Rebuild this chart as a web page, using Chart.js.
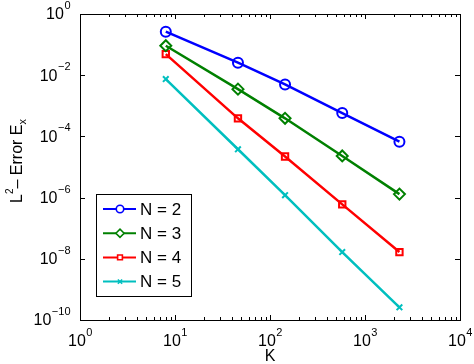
<!DOCTYPE html>
<html>
<head>
<meta charset="utf-8">
<script src="https://cdn.jsdelivr.net/npm/chart.js@4/dist/chart.umd.min.js"></script>
<style>
  html, body { margin: 0; padding: 0; background: #fff; }
  #wrap { width: 474px; height: 364px; }
</style>
</head>
<body>
<div id="wrap"><canvas id="errChart" width="474" height="364"></canvas></div>
<script>
// K values (x axis)
const kValues = [8, 46, 144, 576, 2304];

// L2 error per polynomial order N
const errN2 = [0.264, 0.0256, 0.0050, 5.8e-4, 6.7e-5];
const errN3 = [0.092, 3.5e-3, 3.9e-4, 2.3e-5, 1.3e-6];
const errN4 = [0.049, 3.9e-4, 2.2e-5, 6.0e-7, 1.66e-8];
const errN5 = [7.5e-3, 3.8e-5, 1.2e-6, 1.66e-8, 2.6e-10];

const seriesLabels = ["N = 2", "N = 3", "N = 4", "N = 5"];
const xTickExps = [0, 1, 2, 3, 4];
const yTickExps = [0, -2, -4, -6, -8, -10];

const colors = ["#0000ff", "#008000", "#ff0000", "#00bfbf"];
const markers = ["circle", "rectRot", "rect", "crossRot"];
const markerSizes = [5, 5.5, 4.5, 4];

function toPoints(ys) {
	return kValues.map((k, i) => ({ x: k, y: ys[i] }));
}

const allSeries = [errN2, errN3, errN4, errN5];

const FONT = "Liberation Sans, Arial, sans-serif";

// draw "10" with a superscript exponent
function drawPow(ctx, exp, x, y, align) {
	const base = "10";
	const sup = String(exp).replace("-", "\u2212");
	ctx.font = "16px " + FONT;
	const wb = ctx.measureText(base).width;
	ctx.font = "11px " + FONT;
	const ws = ctx.measureText(sup).width;
	let left = x;
	if (align === "center") left = x - (wb + ws) / 2;
	if (align === "right") left = x - (wb + ws);
	ctx.textAlign = "left";
	ctx.textBaseline = "middle";
	ctx.font = "16px " + FONT;
	ctx.fillText(base, left, y);
	ctx.font = "11px " + FONT;
	ctx.fillText(sup, left + wb + 0.5, y - 9);
}

const framePlugin = {
	id: "frame",
	afterDraw(chart) {
		const ctx = chart.ctx;
		const a = chart.chartArea;
		const xs = chart.scales.x;
		const ys = chart.scales.y;
		ctx.save();
		ctx.strokeStyle = "#000";
		ctx.fillStyle = "#000";
		ctx.lineWidth = 1;

		// box
		ctx.strokeRect(Math.round(a.left) + 0.5, Math.round(a.top) + 0.5, Math.round(a.right - a.left), Math.round(a.bottom - a.top));

		// x ticks (major + minor), inward on top and bottom
		ctx.beginPath();
		for (let e = 0; e <= 4; e++) {
			for (let m = 1; m <= 9; m++) {
				if (e === 4 && m > 1) break;
				const px = Math.round(xs.getPixelForValue(m * Math.pow(10, e))) + 0.5;
				const len = m === 1 ? 5 : 3;
				ctx.moveTo(px, a.bottom);
				ctx.lineTo(px, a.bottom - len);
				ctx.moveTo(px, a.top);
				ctx.lineTo(px, a.top + len);
			}
		}
		// y ticks
		yTickExps.forEach((e) => {
			const py = Math.round(ys.getPixelForValue(Math.pow(10, e))) + 0.5;
			ctx.moveTo(a.left, py);
			ctx.lineTo(a.left + 5, py);
			ctx.moveTo(a.right, py);
			ctx.lineTo(a.right - 5, py);
		});
		ctx.stroke();

		// tick labels
		xTickExps.forEach((e) => {
			drawPow(ctx, e, xs.getPixelForValue(Math.pow(10, e)), a.bottom + 22, "center");
		});
		yTickExps.forEach((e) => {
			drawPow(ctx, e, a.left - 10, ys.getPixelForValue(Math.pow(10, e)) + 1, "right");
		});

		// x title
		ctx.font = "16px " + FONT;
		ctx.textAlign = "center";
		ctx.textBaseline = "middle";
		ctx.fillText("K", (a.left + a.right) / 2, 357);

		// y title: L^2 – Error E_x
		ctx.translate(18, 161);
		ctx.rotate(-Math.PI / 2);
		const parts = [
			["L", 16, 0],
			["2", 10, -8],
			["\u2013 Error E", 16, 0],
			["x", 11, 5],
		];
		let total = 0;
		parts.forEach((p) => {
			ctx.font = p[1] + "px " + FONT;
			total += ctx.measureText(p[0]).width;
		});
		let cx = -total / 2;
		ctx.textAlign = "left";
		parts.forEach((p) => {
			ctx.font = p[1] + "px " + FONT;
			ctx.fillText(p[0], cx, p[2]);
			cx += ctx.measureText(p[0]).width;
		});
		ctx.setTransform(1, 0, 0, 1, 0, 0);

		// legend box
		const lx = 96, ly = 194, lw = 95, lh = 102;
		ctx.fillStyle = "#fff";
		ctx.fillRect(lx, ly, lw, lh);
		ctx.strokeStyle = "#000";
		ctx.lineWidth = 1;
		ctx.strokeRect(lx + 0.5, ly + 0.5, lw, lh);
		seriesLabels.forEach((label, i) => {
			const rowY = 209 + i * 24.2;
			ctx.strokeStyle = colors[i];
			ctx.lineWidth = 2;
			ctx.beginPath();
			ctx.moveTo(103, rowY);
			ctx.lineTo(136, rowY);
			ctx.stroke();
			ctx.fillStyle = "#fff";
			ctx.lineWidth = 1.6;
			Chart.helpers.drawPoint(ctx, {
				pointStyle: markers[i],
				radius: markerSizes[i] * 0.75,
				borderWidth: 1.6,
			}, 120, rowY);
			ctx.fillStyle = "#000";
			ctx.font = "17px " + FONT;
			ctx.textAlign = "left";
			ctx.textBaseline = "middle";
			ctx.fillText(label, 140, rowY + 1);
		});
		ctx.restore();
	},
};

const datasets = allSeries.map((ys, i) => ({
	label: seriesLabels[i],
	data: toPoints(ys),
	borderColor: colors[i],
	backgroundColor: "rgba(0,0,0,0)",
	borderWidth: 2.5,
	pointStyle: markers[i],
	pointRadius: markerSizes[i],
	pointBorderWidth: 2,
	pointBorderColor: colors[i],
	pointBackgroundColor: "rgba(0,0,0,0)",
	fill: false,
	tension: 0,
}));

const ctx = document.getElementById("errChart").getContext("2d");
const chart = new Chart(ctx, {
	type: "line",
	data: { datasets: datasets },
	options: {
		responsive: false,
		animation: false,
		layout: { padding: { left: 80, top: 14, right: 14, bottom: 44 } },
		scales: {
			x: { type: "logarithmic", min: 1, max: 10000, display: false },
			y: { type: "logarithmic", min: 1e-10, max: 1, display: false },
		},
		plugins: {
			legend: { display: false },
			tooltip: { enabled: false },
		},
	},
	plugins: [framePlugin],
});
</script>
</body>
</html>
